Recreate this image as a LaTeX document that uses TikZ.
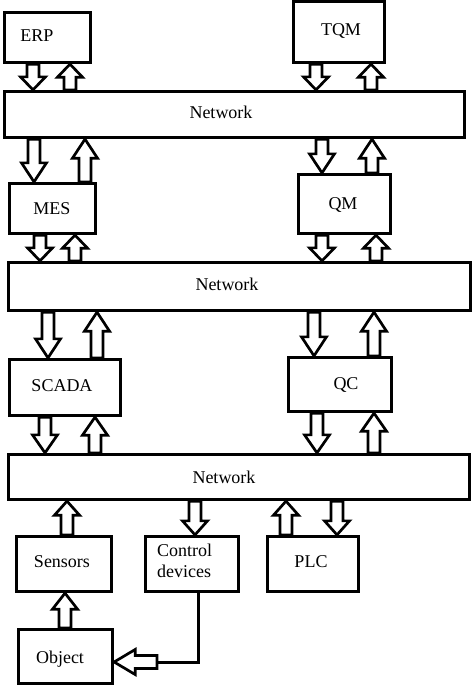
\documentclass[tikz,border=0pt]{standalone}
\usepackage{fontspec}
\setmainfont{Liberation Serif}
\usetikzlibrary{calc}
\tikzset{
  box/.style={draw, line width=3.3pt, inner sep=0pt},
  sz/.style 2 args={minimum width=#1pt, minimum height=#2pt},
  lbl/.style={font=\fontsize{18}{21}\selectfont, inner sep=0pt, text depth=0pt},
  blockarrow/.style={draw, line width=2.7pt, line join=miter},
  linkline/.style={draw, line width=3pt, line join=miter}
}
\def\bsh{6pt}
\def\bhw{12.5pt}
% block arrow between two coordinates, tip at the second
\newcommand\barrp[3][13]{%
  \coordinate (ba) at (#2);
  \coordinate (bb) at (#3);
  \coordinate (bh) at ($(bb)!#1pt!(ba)$);
  \draw[blockarrow] ($(ba)!\bsh!90:(bb)$) -- ($(bh)!\bsh!-90:(ba)$) -- ($(bh)!\bhw!-90:(ba)$) -- (bb)
     -- ($(bh)!\bhw!90:(ba)$) -- ($(bh)!\bsh!90:(ba)$) -- ($(ba)!\bsh!-90:(bb)$) -- cycle;}
% vertical block arrow at column x, from anchor #3 to anchor #4
\newcommand\barr[4][13]{%
  \path let \p1=(#3), \p2=(#4) in coordinate (ta) at (#2pt,\y1) coordinate (tb) at (#2pt,\y2);
  \barrp[#1]{ta}{tb}}
\begin{document}
\begin{tikzpicture}[x=1pt,y=-1pt]
\useasboundingbox (0,0) rectangle (474,686);
% boxes
\node[box, sz={86}{50}] (erp) at (47.5,37.5) {};
\node[box, sz={91}{61}] (tqm) at (339,32) {};
\node[box, sz={460}{46}] (net1) at (234.5,114.5) {};
\node[box, sz={86}{50}] (mes) at (52.5,208.5) {};
\node[box, sz={92}{59}] (qm) at (344.5,204) {};
\node[box, sz={462}{48}] (net2) at (239.5,286.5) {};
\node[box, sz={111}{56}] (scada) at (65,387.5) {};
\node[box, sz={103}{54}] (qc) at (340,384.5) {};
\node[box, sz={461}{45}] (net3) at (239,477) {};
\node[box, sz={95}{55}] (sensors) at (64,564) {};
\node[box, sz={93}{55}] (ctrl) at (192,564) {};
\node[box, sz={91}{55}] (plc) at (313,564) {};
\node[box, sz={94}{54}] (object) at (65.5,656.5) {};
% labels
\node[lbl] (erpt) at (37,36) {ERP};
\node[lbl] (tqmt) at (341,30) {TQM};
\node[lbl] (net1t) at (221,112) {Network};
\node[lbl] (mest) at (52,209) {MES};
\node[lbl] (qmt) at (343,204) {QM};
\node[lbl] (net2t) at (227,284) {Network};
\node[lbl] (scadat) at (62,386) {SCADA};
\node[lbl] (qct) at (346,384) {QC};
\node[lbl] (net3t) at (224,477) {Network};
\node[lbl] (sensorst) at (62,562) {Sensors};
\node[lbl, align=left, anchor=west] (ctrlt) at (157,561) {Control\\devices};
\node[lbl] (plct) at (311,562) {PLC};
\node[lbl] (objectt) at (60,657) {Object};
% row 1
\barr{33}{erp.south}{net1.north}
\barr{70}{net1.north}{erp.south}
\barr{316}{tqm.south}{net1.north}
\barr{371}{net1.north}{tqm.south}
% row 2
\barr[19]{34}{net1.south}{mes.north}
\barr[19]{85}{mes.north}{net1.south}
\barr[19]{322}{net1.south}{qm.north}
\barr[19]{372}{qm.north}{net1.south}
% row 3
\barr{40}{mes.south}{net2.north}
\barr{75}{net2.north}{mes.south}
\barr{322}{qm.south}{net2.north}
\barr{376}{net2.north}{qm.south}
% row 4
\barr[19]{48}{net2.south}{scada.north}
\barr[19]{97}{scada.north}{net2.south}
\barr[19]{314}{net2.south}{qc.north}
\barr[19]{374}{qc.north}{net2.south}
% row 5
\barr[18]{45}{scada.south}{net3.north}
\barr[18]{95}{net3.north}{scada.south}
\barr[18]{317}{qc.south}{net3.north}
\barr[18]{374}{net3.north}{qc.south}
% row 6
\barr[14]{67}{sensors.north}{net3.south}
\barr[14]{195}{net3.south}{ctrl.north}
\barr[14]{286}{plc.north}{net3.south}
\barr[14]{337}{net3.south}{plc.north}
% row 7
\barr[16]{65}{object.north}{sensors.south}
% control devices -> object
\coordinate (cb) at (198,662);
\coordinate (cs) at (157,662);
\draw[linkline] (ctrl.south -| cb) -- (cb) -- (cs);
\begingroup
\def\bsh{6.5pt}
\def\bhw{12.5pt}
\barrp[21]{cs}{object.east |- cs}
\endgroup
\end{tikzpicture}
\end{document}
